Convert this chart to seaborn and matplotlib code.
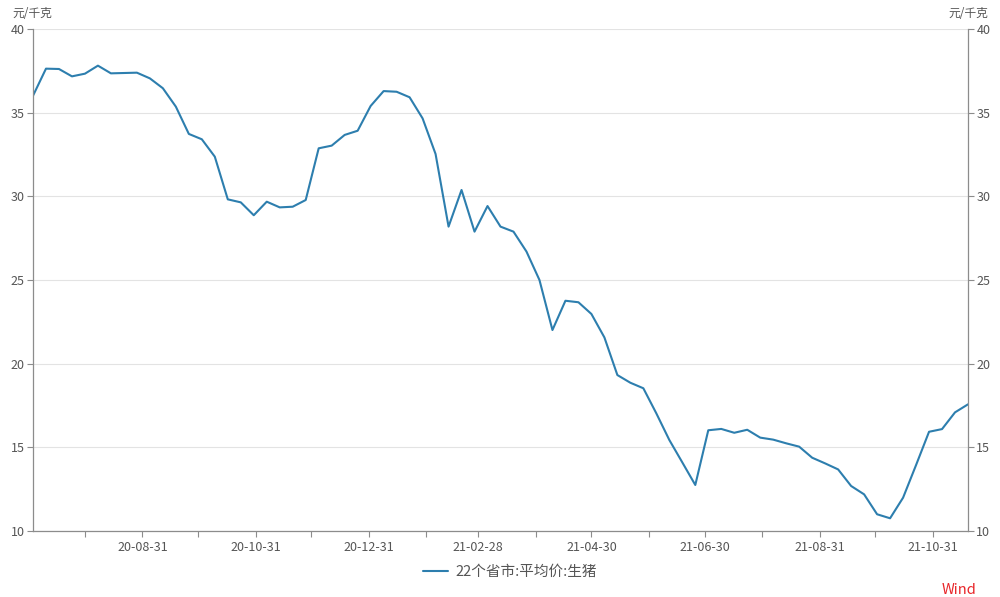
import numpy as np
import pandas as pd
import matplotlib
matplotlib.use("Agg")
import matplotlib.pyplot as plt
import seaborn as sns

# 数据：22个省市生猪平均价（周度，元/千克）
start_date = "2020-07-03"
n_weeks = 73
prices = [
    36.01, 37.63, 37.61, 37.17, 37.33, 37.81, 37.35, 37.37, 37.39, 37.05,
    36.46, 35.36, 33.73, 33.41, 32.37, 29.82, 29.64, 28.87, 29.68, 29.34,
    29.38, 29.78, 32.87, 33.03, 33.67, 33.92, 35.40, 36.29, 36.25, 35.92,
    34.66, 32.53, 28.19, 30.38, 27.89, 29.42, 28.19, 27.89, 26.70, 25.00,
    22.01, 23.76, 23.67, 22.97, 21.57, 19.32, 18.86, 18.53, 17.03, 15.44,
    14.10, 12.75, 16.02, 16.10, 15.87, 16.05, 15.58, 15.46, 15.24, 15.04,
    14.38, 14.04, 13.68, 12.69, 12.19, 11.00, 10.76, 11.99, 13.94, 15.93,
    16.09, 17.09, 17.57,
]
series_name = "22个省市:平均价:生猪"
unit_label = "元/千克"
y_ticks = [10, 15, 20, 25, 30, 35, 40]
major_tick_dates = ["2020-08-31", "2020-10-31", "2020-12-31", "2021-02-28",
                    "2021-04-30", "2021-06-30", "2021-08-31", "2021-10-31"]
minor_tick_dates = ["2020-07-31", "2020-09-30", "2020-11-30", "2021-01-31",
                    "2021-03-31", "2021-05-31", "2021-07-31", "2021-09-30"]

df = pd.DataFrame({
    "date": pd.date_range(start_date, periods=n_weeks, freq="7D"),
    "price": prices,
})

sns.set_style("white")
plt.rcParams["font.family"] = ["Noto Sans CJK SC", "DejaVu Sans"]

line_color = "#2d7eae"
text_color = "#555555"
spine_color = "#8c8c8c"

fig = plt.figure(figsize=(10, 5.97), dpi=100)
ax = fig.add_axes([0.033, 1 - 531 / 597, 0.935, (531 - 29) / 597])

sns.lineplot(data=df, x="date", y="price", ax=ax, color=line_color,
             linewidth=1.5, label=series_name)

ax.set_xlim(df["date"].iloc[0], df["date"].iloc[-1])
ax.set_ylim(10, 40)
ax.set_yticks(y_ticks)
ax.set_yticklabels([str(t) for t in y_ticks])

major = pd.to_datetime(major_tick_dates)
ax.set_xticks(major)
ax.set_xticklabels([d.strftime("%y-%m-%d") for d in major])
ax.set_xticks(pd.to_datetime(minor_tick_dates), minor=True)

ax.set_xlabel("")
ax.set_ylabel("")

# 网格与坐标轴
ax.grid(axis="y", color="#e3e3e3", linewidth=0.8)
ax.grid(axis="x", visible=False)
ax.set_axisbelow(True)
for side in ["left", "right", "bottom"]:
    ax.spines[side].set_visible(True)
    ax.spines[side].set_color(spine_color)
    ax.spines[side].set_linewidth(0.9)
ax.spines["top"].set_visible(False)

ax.tick_params(axis="y", which="both", left=True, right=True,
               labelleft=True, labelright=True, length=4, width=0.8,
               color=spine_color, labelcolor=text_color, labelsize=9, pad=2)
ax.tick_params(axis="x", which="both", bottom=True, length=4, width=0.8,
               color=spine_color, labelcolor=text_color, labelsize=9, pad=3)

# 单位
fig.text(0.012, 0.977, unit_label, ha="left", va="center",
         fontsize=8.5, color=text_color)
fig.text(0.988, 0.977, unit_label, ha="right", va="center",
         fontsize=8.5, color=text_color)

# 图例
ax.legend(loc="center", bbox_to_anchor=(0.51, 0.042),
          bbox_transform=fig.transFigure, frameon=False,
          fontsize=10.5, handlelength=1.7, handletextpad=0.5,
          labelcolor=text_color)

fig.text(0.977, 0.012, "Wind", ha="right", va="center",
         fontsize=10.5, color="#e8262a")

fig.savefig("out.png", dpi=100)
